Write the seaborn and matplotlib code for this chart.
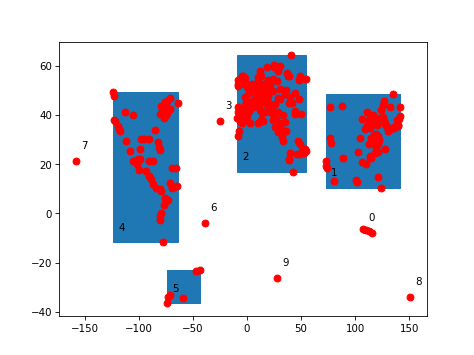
import matplotlib
matplotlib.use('Agg')
import matplotlib.pyplot as plt
from matplotlib.patches import Rectangle
import pandas as pd
import seaborn as sns

# longitude / latitude of the cities in each cluster (0..9)
lon_0 = [106.8, 109.8, 112.7, 115.5]
lat_0 = [-6.2, -6.9, -7.3, -8.0]

lon_1 = [135.1, 126.6, 125.3, 141.35, 131.9, 76.9, 87.6,
         123.4, 116.4, 117.2, 121.6, 125.75, 127.0, 126.7, 127.4, 128.6, 129.1,
         140.9, 141.15, 139.7, 139.6, 136.9, 135.5, 135.8, 132.5, 130.4, 139.0,
         114.5, 112.55, 117.0, 120.4, 113.6, 108.9, 111.1, 106.3, 110.8, 113.3,
         118.8, 121.47, 120.15, 120.6, 117.3, 114.3, 104.07, 112.9, 115.9,
         120.7, 121.55, 119.3, 118.1, 121.5, 113.26, 114.06, 114.17, 102.7,
         105.85, 110.3, 127.7, 120.98, 123.9, 100.5, 101.3, 80.27, 88.36,
         77.2, 76.8, 72.88, 72.83, 73.86]
lat_1 = [48.5, 45.8, 43.9, 43.06, 43.1, 43.25, 43.8,
         41.8, 39.9, 39.1, 38.9, 39.0, 37.55, 37.45, 36.35, 35.87, 35.2,
         38.27, 39.7, 35.7, 35.4, 35.2, 34.7, 35.0, 34.4, 33.6, 37.9,
         38.0, 37.87, 36.65, 36.07, 34.75, 34.3, 35.5, 38.5, 41.1, 40.1,
         32.05, 31.23, 30.27, 31.3, 31.8, 30.6, 30.67, 28.2, 28.7,
         28.0, 29.87, 26.1, 24.5, 25.05, 23.13, 22.54, 22.32, 25.0,
         21.0, 20.0, 26.2, 14.6, 10.3, 13.75, 12.7, 13.08, 22.57,
         28.6, 30.7, 19.08, 21.17, 18.52]

lon_2 = [40.5, 30.3, 24.9, 24.7, 28.3, 18.1, 12.0, 10.4, 12.6, 10.0,
         36.8, 37.6, 38.4, 49.1, 48.4, 55.0,
         24.5, 19.5, 16.9, 21.0, 27.6,
         -6.3, -5.9, -8.0, -8.6, -8.5,
         -1.9, -2.2, -0.1, -4.25, -3.2, -1.6,
         4.9, 4.5, 4.35, 2.35, 3.06, 6.96, 8.7, 13.4, 12.4, 14.4, 11.6, 9.2,
         16.4, 19.0, 19.9, 17.1, 8.5, 6.1, 4.8, -1.55, -0.6, 1.4, 5.4, 7.3,
         9.2, 7.7, 12.3, 11.3, 11.25, 12.5, 14.3, 16.9, 13.4, 15.1, 16.0,
         20.5, 18.4, 23.3, 26.1, 22.9, 23.7, 29.0, 27.1, 32.9, 30.7, 35.3,
         30.5, 36.25, 35.0, 30.7, 24.0, 28.9,
         -3.7, 2.2, -0.4, -6.0, -4.4, -2.9, -8.4, -8.6, -9.1, -1.1, -4.7, -0.9,
         3.1, 10.2, -7.6, -8.0,
         39.7, 39.0, 42.0, 44.5, 48.0, 44.8, 44.5, 49.9,
         26.0, 30.6, 35.3, 36.3, 29.1, 32.2, 33.7,
         47.6, 49.2, 50.8, 53.9, 54.8, 52.3, 49.2, 46.4, 39.6, 38.4, 39.2, 42.9]
lat_2 = [64.5, 59.9, 60.2, 59.4, 57.8, 59.3, 57.7, 55.4, 55.7, 53.6,
         56.9, 55.75, 55.7, 55.8, 54.3, 54.7,
         54.4, 54.2, 52.4, 52.2, 53.9,
         53.3, 54.6, 54.0, 52.7, 51.9,
         52.5, 53.5, 51.5, 55.9, 55.95, 54.9,
         52.4, 51.9, 50.85, 48.86, 50.63, 50.94, 50.1, 52.5, 51.3, 50.1, 48.1, 48.8,
         48.2, 47.5, 50.1, 48.15, 47.4, 46.2, 45.8, 47.2, 44.8, 43.6, 43.3, 43.7,
         45.5, 45.1, 45.4, 44.5, 43.8, 41.9, 40.85, 41.1, 38.1, 37.5, 45.8,
         44.8, 43.9, 42.7, 44.4, 40.6, 38.0, 41.0, 38.4, 39.9, 36.9, 37.0,
         50.45, 50.0, 48.5, 46.5, 49.8, 47.0,
         40.4, 41.4, 39.5, 37.4, 36.7, 43.3, 43.4, 41.15, 38.7, 38.0, 41.65, 41.65,
         36.75, 36.8, 33.6, 31.6,
         47.2, 45.0, 45.0, 48.7, 46.35, 41.7, 40.2, 40.4,
         35.0, 35.0, 33.6, 33.5, 32.9, 30.9, 29.5,
         29.4, 28.0, 25.3, 26.0, 25.4, 24.7, 24.0, 24.3, 24.5, 22.0, 21.5, 16.7]

lon_3 = [-25.2]
lat_3 = [37.7]

lon_4 = [-124.1, -122.6, -123.3, -122.2, -119.3, -118.3, -117.3,
         -112.3, -105.5, -111.7, -84.6,
         -97.8, -94.7, -90.9, -82.5, -81.0, -80.2,
         -108.3, -99.0,
         -105.5, -100.9, -98.7, -101.8, -100.0,
         -90.1, -87.0, -69.7, -65.9,
         -93.2, -90.7, -88.5, -87.0, -83.9, -80.8, -79.2,
         -70.8, -68.9, -64.7, -67.0,
         -76.1, -74.6, -76.8, -73.0,
         -79.2, -80.2, -80.8, -77.4,
         -71.2, -73.6, -75.7, -79.4, -78.9, -73.8, -71.1, -74.0, -75.2,
         -76.6, -77.0, -80.0, -64.0]
lat_4 = [49.4, 47.8, 38.1, 37.4, 35.3, 34.1, 33.5,
         41.0, 39.9, 29.4, 34.0,
         30.4, 30.1, 30.3, 28.9, 26.8, 25.8,
         25.3, 26.3,
         21.2, 21.9, 22.2, 19.9, 17.8,
         21.2, 21.2, 18.5, 18.5,
         17.2, 15.1, 13.8, 12.1, 10.4, 9.7, 9.0,
         12.4, 10.4, 11.0, 10.6,
         6.3, 4.9, 3.5, 5.6,
         0.1, -1.2, -2.6, -11.8,
         46.8, 45.5, 45.4, 43.7, 42.9, 42.65, 42.4, 40.7, 40.0,
         39.3, 38.9, 40.4, 44.8]

lon_5 = [-46.7, -43.6, -71.5, -73.0, -74.0, -59.1]
lat_5 = [-23.3, -23.0, -33.2, -33.9, -36.6, -34.5]

lon_6 = [-38.6]
lat_6 = [-4.0]

lon_7 = [-158.0]
lat_7 = [21.2]

lon_8 = [150.6]
lat_8 = [-34.0]

lon_9 = [27.8]
lat_9 = [-26.3]

clusters = [(lon_0, lat_0), (lon_1, lat_1), (lon_2, lat_2), (lon_3, lat_3),
            (lon_4, lat_4), (lon_5, lat_5), (lon_6, lat_6), (lon_7, lat_7),
            (lon_8, lat_8), (lon_9, lat_9)]

rows = []
for k, (lon, lat) in enumerate(clusters):
    for x, y in zip(lon, lat):
        rows.append({'lon': x, 'lat': y, 'cluster': k})
df = pd.DataFrame(rows)

fig, ax = plt.subplots(figsize=(6.4, 4.8))

# bounding box + label of every cluster
for k, g in df.groupby('cluster'):
    x0, x1 = g['lon'].min(), g['lon'].max()
    y0, y1 = g['lat'].min(), g['lat'].max()
    ax.add_patch(Rectangle((x0, y0), x1 - x0, y1 - y0, color='C0', zorder=1))
    ax.text(x0 + 5, y0 + 5, str(k), zorder=3)

sns.scatterplot(data=df, x='lon', y='lat', color='red', s=44,
                edgecolor='red', linewidth=1, ax=ax, zorder=2, legend=False)
ax.set_xlabel('')
ax.set_ylabel('')

fig.savefig('out.png', dpi=74.07)
